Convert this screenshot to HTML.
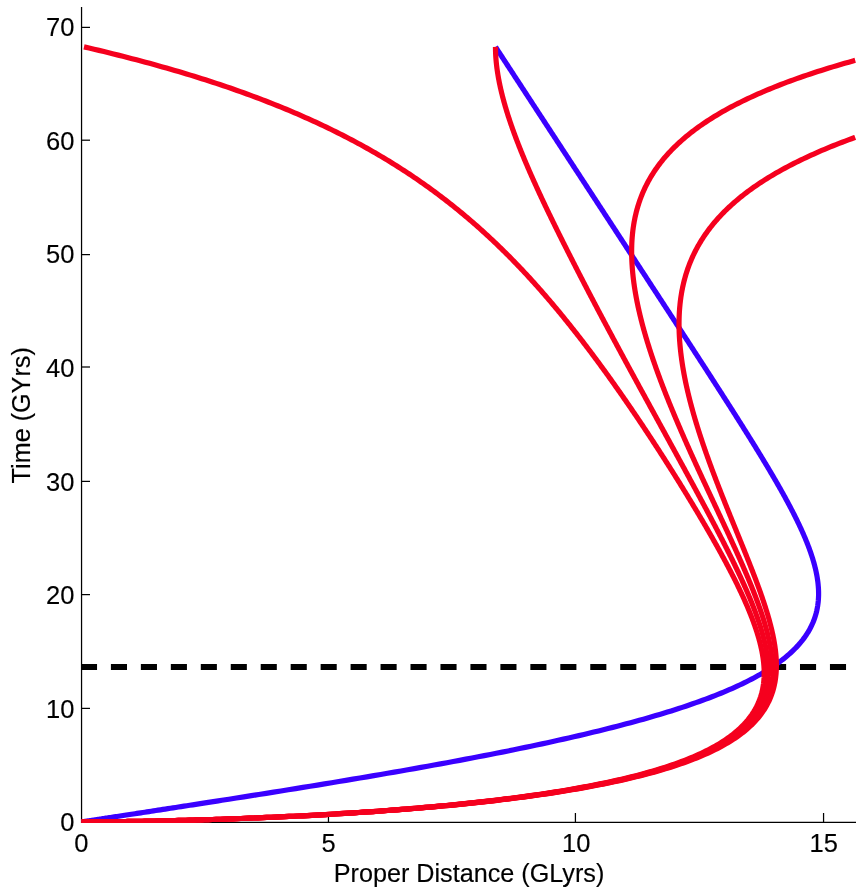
<!DOCTYPE html>
<html><head><meta charset="utf-8"><title>Proper Distance vs Time</title>
<style>html,body{margin:0;padding:0;background:#fff}svg{display:block}</style></head>
<body>
<svg width="861" height="890" viewBox="0 0 861 890">
<rect width="861" height="890" fill="#fff"/>
<clipPath id="c"><rect x="80.9" y="6" width="775.2" height="816.9"/></clipPath>
<g stroke="#000" stroke-width="1.25" fill="none">
<path d="M81.55,7 V822.35 H856"/>
<path d="M81.55,708.40 H90"/>
<path d="M81.55,594.60 H90"/>
<path d="M81.55,481.40 H90"/>
<path d="M81.55,367.00 H90"/>
<path d="M81.55,254.60 H90"/>
<path d="M81.55,140.20 H90"/>
<path d="M81.55,27.40 H90"/>
<path d="M328.46,822.35 V813"/>
<path d="M575.42,822.35 V813"/>
<path d="M823.56,822.35 V813"/>
</g>
<g clip-path="url(#c)" fill="none" stroke-linejoin="round">
<path d="M80.95,667 H846.1" stroke="#000" stroke-width="5.8" stroke-dasharray="16.1 13.86"/>
<path d="M81.55,821.90 L81.55,821.90 L81.55,821.90 L81.56,821.90 L81.56,821.90 L81.57,821.90 L81.58,821.89 L81.60,821.89 L81.62,821.89 L81.64,821.89 L81.67,821.88 L81.71,821.88 L81.75,821.87 L81.80,821.86 L81.85,821.85 L81.92,821.84 L81.99,821.83 L82.07,821.82 L82.16,821.81 L82.26,821.79 L82.37,821.78 L82.49,821.76 L82.62,821.74 L82.76,821.72 L82.91,821.69 L83.08,821.67 L83.26,821.64 L83.45,821.61 L83.66,821.58 L83.89,821.54 L84.12,821.51 L84.38,821.47 L84.65,821.43 L84.93,821.38 L85.24,821.34 L85.56,821.29 L85.90,821.24 L86.25,821.18 L86.63,821.12 L87.03,821.06 L87.44,821.00 L87.88,820.93 L88.34,820.86 L88.82,820.79 L89.32,820.71 L89.85,820.63 L90.39,820.55 L90.96,820.46 L91.56,820.37 L92.18,820.27 L92.82,820.18 L93.49,820.07 L94.19,819.97 L94.91,819.86 L95.66,819.74 L96.44,819.62 L97.25,819.50 L98.08,819.37 L98.95,819.24 L99.84,819.10 L100.76,818.96 L101.71,818.82 L102.70,818.66 L103.71,818.51 L104.76,818.35 L105.84,818.18 L106.96,818.01 L108.10,817.84 L109.28,817.66 L110.50,817.47 L111.75,817.28 L113.03,817.08 L114.36,816.88 L115.71,816.67 L117.11,816.46 L118.54,816.24 L120.01,816.01 L121.52,815.78 L123.07,815.55 L124.65,815.30 L126.28,815.05 L127.94,814.80 L129.65,814.54 L131.40,814.27 L133.19,814.00 L135.02,813.71 L136.89,813.43 L138.81,813.13 L140.77,812.83 L142.78,812.52 L144.83,812.21 L146.92,811.89 L149.06,811.56 L151.24,811.22 L153.47,810.88 L155.75,810.53 L158.07,810.17 L160.45,809.81 L162.86,809.44 L165.33,809.06 L167.85,808.67 L170.41,808.28 L173.03,807.87 L175.69,807.46 L178.40,807.04 L181.17,806.62 L183.98,806.18 L186.85,805.74 L189.77,805.29 L192.73,804.83 L195.76,804.36 L198.83,803.88 L201.95,803.40 L205.13,802.90 L208.37,802.40 L211.65,801.89 L214.99,801.37 L218.38,800.84 L221.83,800.30 L225.33,799.76 L228.89,799.20 L236.40,798.02 L243.89,796.85 L251.36,795.67 L258.80,794.49 L266.22,793.31 L273.62,792.14 L280.98,790.96 L288.32,789.78 L295.63,788.60 L302.91,787.43 L310.16,786.25 L317.38,785.07 L324.56,783.89 L331.71,782.72 L338.83,781.54 L345.90,780.36 L352.94,779.18 L359.94,778.01 L366.90,776.83 L373.82,775.65 L380.69,774.48 L387.53,773.30 L394.32,772.12 L401.06,770.94 L407.76,769.77 L414.41,768.59 L421.02,767.41 L427.58,766.23 L434.08,765.06 L440.54,763.88 L446.95,762.70 L453.30,761.52 L459.61,760.35 L465.86,759.17 L472.05,757.99 L478.20,756.82 L484.28,755.64 L490.32,754.46 L496.29,753.28 L502.21,752.11 L508.07,750.93 L513.88,749.75 L519.62,748.57 L525.31,747.40 L530.94,746.22 L536.51,745.04 L542.02,743.86 L547.47,742.69 L552.86,741.51 L558.18,740.33 L563.45,739.15 L568.66,737.98 L573.80,736.80 L578.88,735.62 L583.90,734.45 L588.86,733.27 L593.75,732.09 L598.59,730.91 L603.36,729.74 L608.07,728.56 L612.71,727.38 L617.30,726.20 L621.82,725.03 L626.28,723.85 L630.67,722.67 L635.01,721.49 L639.28,720.32 L643.49,719.14 L647.64,717.96 L651.72,716.79 L655.75,715.61 L659.71,714.43 L663.61,713.25 L667.45,712.08 L671.23,710.90 L674.95,709.72 L678.61,708.54 L682.21,707.37 L685.75,706.19 L689.23,705.01 L692.65,703.83 L696.01,702.66 L699.32,701.48 L702.56,700.30 L705.75,699.12 L708.88,697.95 L711.96,696.77 L714.98,695.59 L717.94,694.42 L720.85,693.24 L723.70,692.06 L726.50,690.88 L729.24,689.71 L731.93,688.53 L734.57,687.35 L737.15,686.17 L739.69,685.00 L742.17,683.82 L744.60,682.64 L746.97,681.46 L749.30,680.29 L751.58,679.11 L753.81,677.93 L755.99,676.75 L758.13,675.58 L760.21,674.40 L762.25,673.22 L764.24,672.05 L766.19,670.87 L768.09,669.69 L769.94,668.51 L771.76,667.34 L773.52,666.16 L775.25,664.98 L776.93,663.80 L778.57,662.63 L780.17,661.45 L781.72,660.27 L783.24,659.09 L784.71,657.92 L786.15,656.74 L787.55,655.56 L788.91,654.39 L790.23,653.21 L791.51,652.03 L792.76,650.85 L793.97,649.68 L795.14,648.50 L796.28,647.32 L797.39,646.14 L798.46,644.97 L799.50,643.79 L800.50,642.61 L801.47,641.43 L802.41,640.26 L803.31,639.08 L804.19,637.90 L805.03,636.72 L805.85,635.55 L806.63,634.37 L807.39,633.19 L808.11,632.02 L808.81,630.84 L809.48,629.66 L810.12,628.48 L810.73,627.31 L811.32,626.13 L811.88,624.95 L812.42,623.77 L812.93,622.60 L813.41,621.42 L813.87,620.24 L814.31,619.06 L814.72,617.89 L815.11,616.71 L815.48,615.53 L815.82,614.36 L816.15,613.18 L816.45,612.00 L816.73,610.82 L816.98,609.65 L817.22,608.47 L817.44,607.29 L817.64,606.11 L817.81,604.94 L817.97,603.76 L818.11,602.58 L818.23,601.40 L818.34,600.23 L818.42,599.05 L818.49,597.87 L818.54,596.69 L818.58,595.52 L818.59,594.34 L818.59,593.16 L818.58,591.99 L818.55,590.81 L818.50,589.63 L818.44,588.45 L818.36,587.28 L818.27,586.10 L818.17,584.92 L818.05,583.74 L817.92,582.57 L817.77,581.39 L817.61,580.21 L817.44,579.03 L817.26,577.86 L817.06,576.68 L816.85,575.50 L816.63,574.32 L816.40,573.15 L816.16,571.97 L815.90,570.79 L815.63,569.62 L815.36,568.44 L815.07,567.26 L814.77,566.08 L814.46,564.91 L814.14,563.73 L813.82,562.55 L813.48,561.37 L813.13,560.20 L812.78,559.02 L812.41,557.84 L812.04,556.66 L811.65,555.49 L811.26,554.31 L810.86,553.13 L810.46,551.96 L810.04,550.78 L809.62,549.60 L809.19,548.42 L808.75,547.25 L808.30,546.07 L807.85,544.89 L807.39,543.71 L806.92,542.54 L806.45,541.36 L805.97,540.18 L805.48,539.00 L804.99,537.83 L804.49,536.65 L803.98,535.47 L803.47,534.29 L802.95,533.12 L802.43,531.94 L801.90,530.76 L801.37,529.59 L800.83,528.41 L800.29,527.23 L799.74,526.05 L799.18,524.88 L798.62,523.70 L798.06,522.52 L797.49,521.34 L796.92,520.17 L796.34,518.99 L795.76,517.81 L795.17,516.63 L794.58,515.46 L793.98,514.28 L793.38,513.10 L792.78,511.93 L792.17,510.75 L791.56,509.57 L790.95,508.39 L790.33,507.22 L789.71,506.04 L789.09,504.86 L788.46,503.68 L787.83,502.51 L787.19,501.33 L786.55,500.15 L785.91,498.97 L785.27,497.80 L784.62,496.62 L783.97,495.44 L783.32,494.26 L782.66,493.09 L782.01,491.91 L781.35,490.73 L780.68,489.56 L780.02,488.38 L779.35,487.20 L778.68,486.02 L778.01,484.85 L777.33,483.67 L776.65,482.49 L775.97,481.31 L775.29,480.14 L774.61,478.96 L773.92,477.78 L773.23,476.60 L772.54,475.43 L771.85,474.25 L771.16,473.07 L770.46,471.89 L769.77,470.72 L769.07,469.54 L768.37,468.36 L767.66,467.19 L766.96,466.01 L766.25,464.83 L765.55,463.65 L764.84,462.48 L764.13,461.30 L763.42,460.12 L762.70,458.94 L761.99,457.77 L761.27,456.59 L760.56,455.41 L759.84,454.23 L759.12,453.06 L758.40,451.88 L757.67,450.70 L756.95,449.53 L756.23,448.35 L755.50,447.17 L754.77,445.99 L754.05,444.82 L753.32,443.64 L752.59,442.46 L751.86,441.28 L751.13,440.11 L750.39,438.93 L749.66,437.75 L748.93,436.57 L748.19,435.40 L747.45,434.22 L746.72,433.04 L745.98,431.86 L745.24,430.69 L744.50,429.51 L743.76,428.33 L743.02,427.16 L742.28,425.98 L741.54,424.80 L740.79,423.62 L740.05,422.45 L739.30,421.27 L738.56,420.09 L737.81,418.91 L737.07,417.74 L736.32,416.56 L735.57,415.38 L734.83,414.20 L734.08,413.03 L733.33,411.85 L732.58,410.67 L731.83,409.50 L731.08,408.32 L730.33,407.14 L729.57,405.96 L728.82,404.79 L728.07,403.61 L727.32,402.43 L726.56,401.25 L725.81,400.08 L725.06,398.90 L724.30,397.72 L723.55,396.54 L722.79,395.37 L722.03,394.19 L721.28,393.01 L720.52,391.83 L719.77,390.66 L719.01,389.48 L718.25,388.30 L717.49,387.13 L716.73,385.95 L715.98,384.77 L715.22,383.59 L714.46,382.42 L713.70,381.24 L712.94,380.06 L712.18,378.88 L711.42,377.71 L710.66,376.53 L709.90,375.35 L709.14,374.17 L708.38,373.00 L707.62,371.82 L706.85,370.64 L706.09,369.46 L705.33,368.29 L704.57,367.11 L703.81,365.93 L703.04,364.76 L702.28,363.58 L701.52,362.40 L700.75,361.22 L699.99,360.05 L699.23,358.87 L698.46,357.69 L697.70,356.51 L696.94,355.34 L696.17,354.16 L695.41,352.98 L694.64,351.80 L693.88,350.63 L693.11,349.45 L692.35,348.27 L691.58,347.10 L690.82,345.92 L690.05,344.74 L689.29,343.56 L688.52,342.39 L687.76,341.21 L686.99,340.03 L686.23,338.85 L685.46,337.68 L684.69,336.50 L683.93,335.32 L683.16,334.14 L682.40,332.97 L681.63,331.79 L680.86,330.61 L680.10,329.43 L679.33,328.26 L678.56,327.08 L677.80,325.90 L677.03,324.73 L676.26,323.55 L675.49,322.37 L674.73,321.19 L673.96,320.02 L673.19,318.84 L672.43,317.66 L671.66,316.48 L670.89,315.31 L670.12,314.13 L669.36,312.95 L668.59,311.77 L667.82,310.60 L667.05,309.42 L666.28,308.24 L665.52,307.07 L664.75,305.89 L663.98,304.71 L663.21,303.53 L662.44,302.36 L661.68,301.18 L660.91,300.00 L660.14,298.82 L659.37,297.65 L658.60,296.47 L657.83,295.29 L657.07,294.11 L656.30,292.94 L655.53,291.76 L654.76,290.58 L653.99,289.40 L653.22,288.23 L652.46,287.05 L651.69,285.87 L650.92,284.70 L650.15,283.52 L649.38,282.34 L648.61,281.16 L647.84,279.99 L647.07,278.81 L646.31,277.63 L645.54,276.45 L644.77,275.28 L644.00,274.10 L643.23,272.92 L642.46,271.74 L641.69,270.57 L640.92,269.39 L640.15,268.21 L639.38,267.03 L638.62,265.86 L637.85,264.68 L637.08,263.50 L636.31,262.33 L635.54,261.15 L634.77,259.97 L634.00,258.79 L633.23,257.62 L632.46,256.44 L631.69,255.26 L630.92,254.08 L630.15,252.91 L629.39,251.73 L628.62,250.55 L627.85,249.37 L627.08,248.20 L626.31,247.02 L625.54,245.84 L624.77,244.67 L624.00,243.49 L623.23,242.31 L622.46,241.13 L621.69,239.96 L620.92,238.78 L620.15,237.60 L619.38,236.42 L618.61,235.25 L617.85,234.07 L617.08,232.89 L616.31,231.71 L615.54,230.54 L614.77,229.36 L614.00,228.18 L613.23,227.00 L612.46,225.83 L611.69,224.65 L610.92,223.47 L610.15,222.30 L609.38,221.12 L608.61,219.94 L607.84,218.76 L607.07,217.59 L606.30,216.41 L605.53,215.23 L604.76,214.05 L603.99,212.88 L603.23,211.70 L602.46,210.52 L601.69,209.34 L600.92,208.17 L600.15,206.99 L599.38,205.81 L598.61,204.64 L597.84,203.46 L597.07,202.28 L596.30,201.10 L595.53,199.93 L594.76,198.75 L593.99,197.57 L593.22,196.39 L592.45,195.22 L591.68,194.04 L590.91,192.86 L590.14,191.68 L589.37,190.51 L588.60,189.33 L587.83,188.15 L587.06,186.97 L586.29,185.80 L585.52,184.62 L584.75,183.44 L583.99,182.27 L583.22,181.09 L582.45,179.91 L581.68,178.73 L580.91,177.56 L580.14,176.38 L579.37,175.20 L578.60,174.02 L577.83,172.85 L577.06,171.67 L576.29,170.49 L575.52,169.31 L574.75,168.14 L573.98,166.96 L573.21,165.78 L572.44,164.60 L571.67,163.43 L570.90,162.25 L570.13,161.07 L569.36,159.90 L568.59,158.72 L567.82,157.54 L567.05,156.36 L566.28,155.19 L565.51,154.01 L564.74,152.83 L563.97,151.65 L563.20,150.48 L562.43,149.30 L561.67,148.12 L560.90,146.94 L560.13,145.77 L559.36,144.59 L558.59,143.41 L557.82,142.24 L557.05,141.06 L556.28,139.88 L555.51,138.70 L554.74,137.53 L553.97,136.35 L553.20,135.17 L552.43,133.99 L551.66,132.82 L550.89,131.64 L550.12,130.46 L549.35,129.28 L548.58,128.11 L547.81,126.93 L547.04,125.75 L546.27,124.57 L545.50,123.40 L544.73,122.22 L543.96,121.04 L543.19,119.87 L542.42,118.69 L541.65,117.51 L540.88,116.33 L540.11,115.16 L539.34,113.98 L538.57,112.80 L537.81,111.62 L537.04,110.45 L536.27,109.27 L535.50,108.09 L534.73,106.91 L533.96,105.74 L533.19,104.56 L532.42,103.38 L531.65,102.21 L530.88,101.03 L530.11,99.85 L529.34,98.67 L528.57,97.50 L527.80,96.32 L527.03,95.14 L526.26,93.96 L525.49,92.79 L524.72,91.61 L523.95,90.43 L523.18,89.25 L522.41,88.08 L521.64,86.90 L520.87,85.72 L520.10,84.54 L519.33,83.37 L518.56,82.19 L517.79,81.01 L517.02,79.84 L516.25,78.66 L515.48,77.48 L514.71,76.30 L513.94,75.13 L513.17,73.95 L512.41,72.77 L511.64,71.59 L510.87,70.42 L510.10,69.24 L509.33,68.06 L508.56,66.88 L507.79,65.71 L507.02,64.53 L506.25,63.35 L505.48,62.17 L504.71,61.00 L503.94,59.82 L503.17,58.64 L502.40,57.47 L501.63,56.29 L500.86,55.11 L500.09,53.93 L499.32,52.76 L498.55,51.58 L497.78,50.40 L497.01,49.22 L496.24,48.05 L495.47,46.87" stroke="#3a00ff" stroke-width="5.2"/>
<path d="M81.55,821.90 L81.84,821.90 L82.12,821.90 L82.50,821.90 L82.98,821.90 L83.55,821.90 L84.21,821.89 L84.96,821.89 L85.80,821.89 L86.73,821.89 L87.75,821.88 L88.86,821.88 L90.05,821.87 L91.33,821.86 L92.69,821.85 L94.13,821.84 L95.66,821.83 L97.27,821.82 L98.96,821.81 L100.73,821.79 L102.57,821.78 L104.50,821.76 L106.50,821.74 L108.57,821.72 L110.72,821.69 L112.94,821.67 L115.23,821.64 L117.60,821.61 L120.03,821.58 L122.54,821.54 L125.11,821.51 L127.75,821.47 L130.45,821.43 L133.22,821.38 L136.06,821.34 L138.95,821.29 L141.91,821.24 L144.93,821.18 L148.01,821.12 L151.15,821.06 L154.34,821.00 L157.60,820.93 L160.91,820.86 L164.27,820.79 L167.69,820.71 L171.16,820.63 L174.68,820.55 L178.25,820.46 L181.88,820.37 L185.49,820.27 L189.15,820.18 L192.85,820.07 L196.60,819.97 L200.39,819.86 L204.23,819.74 L208.10,819.62 L212.02,819.50 L215.98,819.37 L219.97,819.24 L224.01,819.10 L228.08,818.96 L232.19,818.82 L236.33,818.66 L240.51,818.51 L244.72,818.35 L248.96,818.18 L253.24,818.01 L257.54,817.84 L261.87,817.66 L266.24,817.47 L270.62,817.28 L275.04,817.08 L279.48,816.88 L283.94,816.67 L288.43,816.46 L292.94,816.24 L297.47,816.01 L302.02,815.78 L306.60,815.55 L311.19,815.30 L315.79,815.05 L320.42,814.80 L325.05,814.54 L329.71,814.27 L334.38,814.00 L339.05,813.71 L343.75,813.43 L348.45,813.13 L353.16,812.83 L357.88,812.52 L362.61,812.21 L367.34,811.89 L372.09,811.56 L376.83,811.22 L381.58,810.88 L386.34,810.53 L391.09,810.17 L395.85,809.81 L400.61,809.44 L405.36,809.06 L410.12,808.67 L414.87,808.28 L419.62,807.87 L424.37,807.46 L429.11,807.04 L433.84,806.62 L438.57,806.18 L443.28,805.74 L448.00,805.29 L452.70,804.83 L457.39,804.36 L462.06,803.88 L466.73,803.40 L471.38,802.90 L476.02,802.40 L480.65,801.89 L485.26,801.37 L489.85,800.84 L494.42,800.30 L498.98,799.76 L503.52,799.20 L512.82,798.02 L521.73,796.85 L530.29,795.67 L538.50,794.49 L546.39,793.31 L553.98,792.14 L561.28,790.96 L568.32,789.78 L575.10,788.60 L581.64,787.43 L587.95,786.25 L594.04,785.07 L599.92,783.89 L605.59,782.72 L611.08,781.54 L616.39,780.36 L621.52,779.18 L626.48,778.01 L631.29,776.83 L635.93,775.65 L640.43,774.48 L644.79,773.30 L649.01,772.12 L653.09,770.94 L657.05,769.77 L660.88,768.59 L664.60,767.41 L668.20,766.23 L671.68,765.06 L675.06,763.88 L678.34,762.70 L681.52,761.52 L684.59,760.35 L687.58,759.17 L690.47,757.99 L693.27,756.82 L695.99,755.64 L698.63,754.46 L701.18,753.28 L703.66,752.11 L706.05,750.93 L708.38,749.75 L710.63,748.57 L712.81,747.40 L714.93,746.22 L716.98,745.04 L718.96,743.86 L720.88,742.69 L722.74,741.51 L724.55,740.33 L726.29,739.15 L727.98,737.98 L729.61,736.80 L731.19,735.62 L732.72,734.45 L734.20,733.27 L735.63,732.09 L737.01,730.91 L738.34,729.74 L739.63,728.56 L740.87,727.38 L742.07,726.20 L743.23,725.03 L744.35,723.85 L745.42,722.67 L746.46,721.49 L747.46,720.32 L748.42,719.14 L749.34,717.96 L750.23,716.79 L751.09,715.61 L751.91,714.43 L752.69,713.25 L753.45,712.08 L754.17,710.90 L754.86,709.72 L755.52,708.54 L756.15,707.37 L756.76,706.19 L757.33,705.01 L757.88,703.83 L758.40,702.66 L758.89,701.48 L759.36,700.30 L759.80,699.12 L760.22,697.95 L760.62,696.77 L760.99,695.59 L761.33,694.42 L761.66,693.24 L761.96,692.06 L762.24,690.88 L762.50,689.71 L762.74,688.53 L762.96,687.35 L763.16,686.17 L763.34,685.00 L763.51,683.82 L763.65,682.64 L763.77,681.46 L763.88,680.29 L763.97,679.11 L764.05,677.93 L764.10,676.75 L764.14,675.58 L764.17,674.40 L764.18,673.22 L764.17,672.05 L764.15,670.87 L764.12,669.69 L764.07,668.51 L764.00,667.34 L763.93,666.16 L763.84,664.98 L763.73,663.80 L763.62,662.63 L763.49,661.45 L763.35,660.27 L763.19,659.09 L763.03,657.92 L762.85,656.74 L762.66,655.56 L762.47,654.39 L762.26,653.21 L762.04,652.03 L761.81,650.85 L761.57,649.68 L761.31,648.50 L761.05,647.32 L760.78,646.14 L760.51,644.97 L760.22,643.79 L759.92,642.61 L759.61,641.43 L759.30,640.26 L758.98,639.08 L758.64,637.90 L758.30,636.72 L757.96,635.55 L757.60,634.37 L757.24,633.19 L756.87,632.02 L756.49,630.84 L756.11,629.66 L755.72,628.48 L755.32,627.31 L754.91,626.13 L754.50,624.95 L754.08,623.77 L753.66,622.60 L753.23,621.42 L752.79,620.24 L752.35,619.06 L751.90,617.89 L751.44,616.71 L750.98,615.53 L750.52,614.36 L750.05,613.18 L749.57,612.00 L749.09,610.82 L748.60,609.65 L748.11,608.47 L747.61,607.29 L747.11,606.11 L746.61,604.94 L746.10,603.76 L745.58,602.58 L745.06,601.40 L744.54,600.23 L744.01,599.05 L743.48,597.87 L742.94,596.69 L742.40,595.52 L741.86,594.34 L741.31,593.16 L740.76,591.99 L740.20,590.81 L739.64,589.63 L739.08,588.45 L738.52,587.28 L737.95,586.10 L737.37,584.92 L736.80,583.74 L736.22,582.57 L735.63,581.39 L735.05,580.21 L734.46,579.03 L733.87,577.86 L733.27,576.68 L732.67,575.50 L732.07,574.32 L731.47,573.15 L730.86,571.97 L730.25,570.79 L729.64,569.62 L729.03,568.44 L728.41,567.26 L727.79,566.08 L727.17,564.91 L726.55,563.73 L725.92,562.55 L725.29,561.37 L724.66,560.20 L724.03,559.02 L723.39,557.84 L722.75,556.66 L722.11,555.49 L721.47,554.31 L720.83,553.13 L720.18,551.96 L719.53,550.78 L718.88,549.60 L718.23,548.42 L717.57,547.25 L716.92,546.07 L716.26,544.89 L715.60,543.71 L714.94,542.54 L714.27,541.36 L713.61,540.18 L712.94,539.00 L712.27,537.83 L711.60,536.65 L710.93,535.47 L710.26,534.29 L709.58,533.12 L708.90,531.94 L708.22,530.76 L707.54,529.59 L706.86,528.41 L706.18,527.23 L705.49,526.05 L704.81,524.88 L704.12,523.70 L703.43,522.52 L702.74,521.34 L702.05,520.17 L701.36,518.99 L700.66,517.81 L699.96,516.63 L699.27,515.46 L698.57,514.28 L697.87,513.10 L697.17,511.93 L696.46,510.75 L695.76,509.57 L695.05,508.39 L694.35,507.22 L693.64,506.04 L692.93,504.86 L692.22,503.68 L691.51,502.51 L690.80,501.33 L690.08,500.15 L689.37,498.97 L688.65,497.80 L687.93,496.62 L687.21,495.44 L686.49,494.26 L685.77,493.09 L685.05,491.91 L684.33,490.73 L683.60,489.56 L682.88,488.38 L682.15,487.20 L681.42,486.02 L680.70,484.85 L679.97,483.67 L679.23,482.49 L678.50,481.31 L677.77,480.14 L677.03,478.96 L676.30,477.78 L675.56,476.60 L674.82,475.43 L674.09,474.25 L673.35,473.07 L672.60,471.89 L671.86,470.72 L671.12,469.54 L670.37,468.36 L669.63,467.19 L668.88,466.01 L668.14,464.83 L667.39,463.65 L666.64,462.48 L665.89,461.30 L665.13,460.12 L664.38,458.94 L663.63,457.77 L662.87,456.59 L662.12,455.41 L661.36,454.23 L660.60,453.06 L659.84,451.88 L659.08,450.70 L658.32,449.53 L657.56,448.35 L656.79,447.17 L656.03,445.99 L655.26,444.82 L654.49,443.64 L653.72,442.46 L652.96,441.28 L652.18,440.11 L651.41,438.93 L650.64,437.75 L649.87,436.57 L649.09,435.40 L648.31,434.22 L647.54,433.04 L646.76,431.86 L645.98,430.69 L645.20,429.51 L644.41,428.33 L643.63,427.16 L642.85,425.98 L642.06,424.80 L641.27,423.62 L640.48,422.45 L639.69,421.27 L638.90,420.09 L638.11,418.91 L637.32,417.74 L636.52,416.56 L635.73,415.38 L634.93,414.20 L634.13,413.03 L633.33,411.85 L632.53,410.67 L631.73,409.50 L630.92,408.32 L630.12,407.14 L629.31,405.96 L628.50,404.79 L627.69,403.61 L626.88,402.43 L626.07,401.25 L625.26,400.08 L624.44,398.90 L623.62,397.72 L622.81,396.54 L621.99,395.37 L621.17,394.19 L620.34,393.01 L619.52,391.83 L618.69,390.66 L617.87,389.48 L617.04,388.30 L616.21,387.13 L615.38,385.95 L614.54,384.77 L613.71,383.59 L612.87,382.42 L612.03,381.24 L611.19,380.06 L610.35,378.88 L609.51,377.71 L608.66,376.53 L607.82,375.35 L606.97,374.17 L606.12,373.00 L605.27,371.82 L604.41,370.64 L603.56,369.46 L602.70,368.29 L601.84,367.11 L600.98,365.93 L600.12,364.76 L599.25,363.58 L598.39,362.40 L597.52,361.22 L596.65,360.05 L595.77,358.87 L594.90,357.69 L594.02,356.51 L593.14,355.34 L592.26,354.16 L591.38,352.98 L590.50,351.80 L589.61,350.63 L588.72,349.45 L587.83,348.27 L586.93,347.10 L586.04,345.92 L585.14,344.74 L584.24,343.56 L583.34,342.39 L582.43,341.21 L581.53,340.03 L580.62,338.85 L579.71,337.68 L578.79,336.50 L577.87,335.32 L576.96,334.14 L576.03,332.97 L575.11,331.79 L574.18,330.61 L573.25,329.43 L572.32,328.26 L571.39,327.08 L570.45,325.90 L569.51,324.73 L568.57,323.55 L567.62,322.37 L566.67,321.19 L565.72,320.02 L564.77,318.84 L563.81,317.66 L562.85,316.48 L561.89,315.31 L560.93,314.13 L559.96,312.95 L558.99,311.77 L558.01,310.60 L557.04,309.42 L556.05,308.24 L555.07,307.07 L554.08,305.89 L553.09,304.71 L552.10,303.53 L551.10,302.36 L550.10,301.18 L549.10,300.00 L548.09,298.82 L547.08,297.65 L546.07,296.47 L545.05,295.29 L544.03,294.11 L543.00,292.94 L541.98,291.76 L540.94,290.58 L539.91,289.40 L538.87,288.23 L537.82,287.05 L536.78,285.87 L535.72,284.70 L534.67,283.52 L533.61,282.34 L532.55,281.16 L531.48,279.99 L530.41,278.81 L529.33,277.63 L528.25,276.45 L527.17,275.28 L526.08,274.10 L524.98,272.92 L523.88,271.74 L522.78,270.57 L521.67,269.39 L520.56,268.21 L519.44,267.03 L518.32,265.86 L517.19,264.68 L516.06,263.50 L514.92,262.33 L513.78,261.15 L512.63,259.97 L511.47,258.79 L510.31,257.62 L509.15,256.44 L507.98,255.26 L506.80,254.08 L505.62,252.91 L504.43,251.73 L503.24,250.55 L502.04,249.37 L500.83,248.20 L499.62,247.02 L498.40,245.84 L497.18,244.67 L495.95,243.49 L494.72,242.31 L493.47,241.13 L492.23,239.96 L490.97,238.78 L489.71,237.60 L488.44,236.42 L487.17,235.25 L485.88,234.07 L484.59,232.89 L483.30,231.71 L482.00,230.54 L480.69,229.36 L479.37,228.18 L478.05,227.00 L476.71,225.83 L475.37,224.65 L474.03,223.47 L472.67,222.30 L471.31,221.12 L469.94,219.94 L468.56,218.76 L467.18,217.59 L465.78,216.41 L464.38,215.23 L462.97,214.05 L461.55,212.88 L460.13,211.70 L458.69,210.52 L457.24,209.34 L455.79,208.17 L454.33,206.99 L452.86,205.81 L451.38,204.64 L449.89,203.46 L448.39,202.28 L446.88,201.10 L445.36,199.93 L443.83,198.75 L442.29,197.57 L440.74,196.39 L439.18,195.22 L437.62,194.04 L436.04,192.86 L434.45,191.68 L432.85,190.51 L431.23,189.33 L429.61,188.15 L427.98,186.97 L426.33,185.80 L424.68,184.62 L423.01,183.44 L421.33,182.27 L419.64,181.09 L417.94,179.91 L416.22,178.73 L414.50,177.56 L412.76,176.38 L411.00,175.20 L409.24,174.02 L407.46,172.85 L405.67,171.67 L403.86,170.49 L402.04,169.31 L400.21,168.14 L398.37,166.96 L396.51,165.78 L394.63,164.60 L392.74,163.43 L390.84,162.25 L388.92,161.07 L386.99,159.90 L385.04,158.72 L383.08,157.54 L381.10,156.36 L379.11,155.19 L377.09,154.01 L375.07,152.83 L373.02,151.65 L370.96,150.48 L368.88,149.30 L366.79,148.12 L364.68,146.94 L362.55,145.77 L360.40,144.59 L358.23,143.41 L356.05,142.24 L353.85,141.06 L351.62,139.88 L349.38,138.70 L347.12,137.53 L344.84,136.35 L342.54,135.17 L340.22,133.99 L337.88,132.82 L335.52,131.64 L333.13,130.46 L330.73,129.28 L328.30,128.11 L325.85,126.93 L323.38,125.75 L320.89,124.57 L318.37,123.40 L315.83,122.22 L313.26,121.04 L310.68,119.87 L308.06,118.69 L305.43,117.51 L302.76,116.33 L300.07,115.16 L297.36,113.98 L294.62,112.80 L291.85,111.62 L289.06,110.45 L286.24,109.27 L283.39,108.09 L280.51,106.91 L277.60,105.74 L274.67,104.56 L271.70,103.38 L268.71,102.21 L265.68,101.03 L262.62,99.85 L259.54,98.67 L256.42,97.50 L253.26,96.32 L250.08,95.14 L246.86,93.96 L243.61,92.79 L240.32,91.61 L237.00,90.43 L233.65,89.25 L230.26,88.08 L226.83,86.90 L223.36,85.72 L219.86,84.54 L216.32,83.37 L212.74,82.19 L209.12,81.01 L205.46,79.84 L201.76,78.66 L198.02,77.48 L194.24,76.30 L190.41,75.13 L186.55,73.95 L182.64,72.77 L178.68,71.59 L174.68,70.42 L170.63,69.24 L166.53,68.06 L162.39,66.88 L158.20,65.71 L153.96,64.53 L149.68,63.35 L145.34,62.17 L140.95,61.00 L136.51,59.82 L132.02,58.64 L127.47,57.47 L122.87,56.29 L118.22,55.11 L113.51,53.93 L108.74,52.76 L103.91,51.58 L99.02,50.40 L94.08,49.22 L89.07,48.05 L84.00,46.87" stroke="#f5001e" stroke-width="5.2"/>
<path d="M81.55,821.90 L81.84,821.90 L82.12,821.90 L82.51,821.90 L82.98,821.90 L83.55,821.90 L84.21,821.89 L84.96,821.89 L85.81,821.89 L86.74,821.89 L87.76,821.88 L88.87,821.88 L90.06,821.87 L91.34,821.86 L92.71,821.85 L94.15,821.84 L95.68,821.83 L97.29,821.82 L98.99,821.81 L100.76,821.79 L102.60,821.78 L104.53,821.76 L106.53,821.74 L108.61,821.72 L110.76,821.69 L112.99,821.67 L115.29,821.64 L117.65,821.61 L120.09,821.58 L122.60,821.54 L125.18,821.51 L127.82,821.47 L130.53,821.43 L133.30,821.38 L136.14,821.34 L139.04,821.29 L142.01,821.24 L145.03,821.18 L148.12,821.12 L151.26,821.06 L154.46,821.00 L157.72,820.93 L161.03,820.86 L164.40,820.79 L167.83,820.71 L171.30,820.63 L174.83,820.55 L178.41,820.46 L182.04,820.37 L185.66,820.27 L189.33,820.18 L193.03,820.07 L196.79,819.97 L200.59,819.86 L204.43,819.74 L208.32,819.62 L212.24,819.50 L216.21,819.37 L220.21,819.24 L224.25,819.10 L228.33,818.96 L232.45,818.82 L236.60,818.66 L240.79,818.51 L245.01,818.35 L249.26,818.18 L253.54,818.01 L257.86,817.84 L262.20,817.66 L266.57,817.47 L270.97,817.28 L275.39,817.08 L279.84,816.88 L284.32,816.67 L288.81,816.46 L293.33,816.24 L297.87,816.01 L302.44,815.78 L307.02,815.55 L311.62,815.30 L316.24,815.05 L320.87,814.80 L325.52,814.54 L330.19,814.27 L334.86,814.00 L339.56,813.71 L344.26,813.43 L348.97,813.13 L353.70,812.83 L358.43,812.52 L363.17,812.21 L367.92,811.89 L372.67,811.56 L377.43,811.22 L382.19,810.88 L386.96,810.53 L391.73,810.17 L396.50,809.81 L401.27,809.44 L406.04,809.06 L410.81,808.67 L415.57,808.28 L420.34,807.87 L425.10,807.46 L429.85,807.04 L434.60,806.62 L439.34,806.18 L444.07,805.74 L448.80,805.29 L453.51,804.83 L458.22,804.36 L462.91,803.88 L467.59,803.40 L472.26,802.90 L476.92,802.40 L481.56,801.89 L486.18,801.37 L490.79,800.84 L495.38,800.30 L499.95,799.76 L504.51,799.20 L513.84,798.02 L522.79,796.85 L531.38,795.67 L539.62,794.49 L547.54,793.31 L555.17,792.14 L562.50,790.96 L569.57,789.78 L576.38,788.60 L582.95,787.43 L589.29,786.25 L595.41,785.07 L601.32,783.89 L607.03,782.72 L612.54,781.54 L617.88,780.36 L623.04,779.18 L628.03,778.01 L632.86,776.83 L637.54,775.65 L642.06,774.48 L646.45,773.30 L650.69,772.12 L654.81,770.94 L658.79,769.77 L662.65,768.59 L666.39,767.41 L670.02,766.23 L673.53,765.06 L676.94,763.88 L680.25,762.70 L683.45,761.52 L686.55,760.35 L689.56,759.17 L692.48,757.99 L695.31,756.82 L698.06,755.64 L700.72,754.46 L703.30,753.28 L705.80,752.11 L708.22,750.93 L710.57,749.75 L712.85,748.57 L715.06,747.40 L717.20,746.22 L719.28,745.04 L721.29,743.86 L723.24,742.69 L725.12,741.51 L726.95,740.33 L728.72,739.15 L730.43,737.98 L732.09,736.80 L733.70,735.62 L735.25,734.45 L736.76,733.27 L738.21,732.09 L739.62,730.91 L740.98,729.74 L742.29,728.56 L743.56,727.38 L744.79,726.20 L745.97,725.03 L747.11,723.85 L748.21,722.67 L749.28,721.49 L750.30,720.32 L751.29,719.14 L752.24,717.96 L753.16,716.79 L754.04,715.61 L754.88,714.43 L755.70,713.25 L756.48,712.08 L757.23,710.90 L757.94,709.72 L758.63,708.54 L759.29,707.37 L759.92,706.19 L760.52,705.01 L761.10,703.83 L761.64,702.66 L762.16,701.48 L762.66,700.30 L763.13,699.12 L763.57,697.95 L764.00,696.77 L764.39,695.59 L764.77,694.42 L765.12,693.24 L765.45,692.06 L765.76,690.88 L766.05,689.71 L766.32,688.53 L766.57,687.35 L766.79,686.17 L767.00,685.00 L767.19,683.82 L767.37,682.64 L767.52,681.46 L767.66,680.29 L767.78,679.11 L767.88,677.93 L767.97,676.75 L768.04,675.58 L768.09,674.40 L768.13,673.22 L768.15,672.05 L768.16,670.87 L768.16,669.69 L768.14,668.51 L768.11,667.34 L768.06,666.16 L768.00,664.98 L767.93,663.80 L767.84,662.63 L767.74,661.45 L767.63,660.27 L767.51,659.09 L767.38,657.92 L767.23,656.74 L767.08,655.56 L766.91,654.39 L766.73,653.21 L766.55,652.03 L766.35,650.85 L766.14,649.68 L765.92,648.50 L765.70,647.32 L765.46,646.14 L765.22,644.97 L764.96,643.79 L764.70,642.61 L764.43,641.43 L764.15,640.26 L763.86,639.08 L763.56,637.90 L763.26,636.72 L762.94,635.55 L762.62,634.37 L762.30,633.19 L761.96,632.02 L761.62,630.84 L761.27,629.66 L760.92,628.48 L760.56,627.31 L760.19,626.13 L759.81,624.95 L759.43,623.77 L759.04,622.60 L758.65,621.42 L758.25,620.24 L757.85,619.06 L757.44,617.89 L757.02,616.71 L756.60,615.53 L756.18,614.36 L755.74,613.18 L755.31,612.00 L754.87,610.82 L754.42,609.65 L753.97,608.47 L753.51,607.29 L753.05,606.11 L752.59,604.94 L752.12,603.76 L751.65,602.58 L751.17,601.40 L750.69,600.23 L750.21,599.05 L749.72,597.87 L749.23,596.69 L748.73,595.52 L748.23,594.34 L747.73,593.16 L747.22,591.99 L746.71,590.81 L746.19,589.63 L745.68,588.45 L745.16,587.28 L744.63,586.10 L744.11,584.92 L743.58,583.74 L743.05,582.57 L742.51,581.39 L741.97,580.21 L741.43,579.03 L740.89,577.86 L740.34,576.68 L739.80,575.50 L739.25,574.32 L738.69,573.15 L738.14,571.97 L737.58,570.79 L737.02,569.62 L736.46,568.44 L735.89,567.26 L735.32,566.08 L734.75,564.91 L734.18,563.73 L733.61,562.55 L733.04,561.37 L732.46,560.20 L731.88,559.02 L731.30,557.84 L730.72,556.66 L730.13,555.49 L729.55,554.31 L728.96,553.13 L728.37,551.96 L727.78,550.78 L727.19,549.60 L726.60,548.42 L726.00,547.25 L725.40,546.07 L724.81,544.89 L724.21,543.71 L723.61,542.54 L723.00,541.36 L722.40,540.18 L721.80,539.00 L721.19,537.83 L720.58,536.65 L719.97,535.47 L719.36,534.29 L718.75,533.12 L718.14,531.94 L717.53,530.76 L716.92,529.59 L716.30,528.41 L715.69,527.23 L715.07,526.05 L714.45,524.88 L713.83,523.70 L713.21,522.52 L712.59,521.34 L711.97,520.17 L711.35,518.99 L710.73,517.81 L710.11,516.63 L709.48,515.46 L708.86,514.28 L708.23,513.10 L707.60,511.93 L706.98,510.75 L706.35,509.57 L705.72,508.39 L705.09,507.22 L704.46,506.04 L703.83,504.86 L703.20,503.68 L702.57,502.51 L701.94,501.33 L701.30,500.15 L700.67,498.97 L700.04,497.80 L699.40,496.62 L698.77,495.44 L698.13,494.26 L697.50,493.09 L696.86,491.91 L696.23,490.73 L695.59,489.56 L694.95,488.38 L694.31,487.20 L693.68,486.02 L693.04,484.85 L692.40,483.67 L691.76,482.49 L691.12,481.31 L690.48,480.14 L689.84,478.96 L689.20,477.78 L688.56,476.60 L687.92,475.43 L687.28,474.25 L686.64,473.07 L685.99,471.89 L685.35,470.72 L684.71,469.54 L684.07,468.36 L683.43,467.19 L682.78,466.01 L682.14,464.83 L681.50,463.65 L680.85,462.48 L680.21,461.30 L679.57,460.12 L678.92,458.94 L678.28,457.77 L677.63,456.59 L676.99,455.41 L676.34,454.23 L675.70,453.06 L675.06,451.88 L674.41,450.70 L673.77,449.53 L673.12,448.35 L672.48,447.17 L671.83,445.99 L671.19,444.82 L670.54,443.64 L669.90,442.46 L669.25,441.28 L668.60,440.11 L667.96,438.93 L667.31,437.75 L666.67,436.57 L666.02,435.40 L665.38,434.22 L664.73,433.04 L664.09,431.86 L663.44,430.69 L662.79,429.51 L662.15,428.33 L661.50,427.16 L660.86,425.98 L660.21,424.80 L659.57,423.62 L658.92,422.45 L658.28,421.27 L657.63,420.09 L656.99,418.91 L656.34,417.74 L655.69,416.56 L655.05,415.38 L654.40,414.20 L653.76,413.03 L653.11,411.85 L652.47,410.67 L651.83,409.50 L651.18,408.32 L650.54,407.14 L649.89,405.96 L649.25,404.79 L648.60,403.61 L647.96,402.43 L647.31,401.25 L646.67,400.08 L646.03,398.90 L645.38,397.72 L644.74,396.54 L644.10,395.37 L643.45,394.19 L642.81,393.01 L642.17,391.83 L641.52,390.66 L640.88,389.48 L640.24,388.30 L639.60,387.13 L638.95,385.95 L638.31,384.77 L637.67,383.59 L637.03,382.42 L636.39,381.24 L635.75,380.06 L635.11,378.88 L634.46,377.71 L633.82,376.53 L633.18,375.35 L632.54,374.17 L631.90,373.00 L631.26,371.82 L630.62,370.64 L629.98,369.46 L629.34,368.29 L628.71,367.11 L628.07,365.93 L627.43,364.76 L626.79,363.58 L626.15,362.40 L625.51,361.22 L624.88,360.05 L624.24,358.87 L623.60,357.69 L622.97,356.51 L622.33,355.34 L621.69,354.16 L621.06,352.98 L620.42,351.80 L619.79,350.63 L619.15,349.45 L618.52,348.27 L617.88,347.10 L617.25,345.92 L616.62,344.74 L615.98,343.56 L615.35,342.39 L614.72,341.21 L614.08,340.03 L613.45,338.85 L612.82,337.68 L612.19,336.50 L611.56,335.32 L610.93,334.14 L610.30,332.97 L609.67,331.79 L609.04,330.61 L608.41,329.43 L607.78,328.26 L607.15,327.08 L606.52,325.90 L605.89,324.73 L605.27,323.55 L604.64,322.37 L604.01,321.19 L603.39,320.02 L602.76,318.84 L602.13,317.66 L601.51,316.48 L600.88,315.31 L600.26,314.13 L599.64,312.95 L599.01,311.77 L598.39,310.60 L597.77,309.42 L597.15,308.24 L596.53,307.07 L595.90,305.89 L595.28,304.71 L594.66,303.53 L594.04,302.36 L593.43,301.18 L592.81,300.00 L592.19,298.82 L591.57,297.65 L590.95,296.47 L590.34,295.29 L589.72,294.11 L589.11,292.94 L588.49,291.76 L587.88,290.58 L587.26,289.40 L586.65,288.23 L586.04,287.05 L585.43,285.87 L584.82,284.70 L584.21,283.52 L583.59,282.34 L582.99,281.16 L582.38,279.99 L581.77,278.81 L581.16,277.63 L580.55,276.45 L579.95,275.28 L579.34,274.10 L578.74,272.92 L578.13,271.74 L577.53,270.57 L576.92,269.39 L576.32,268.21 L575.72,267.03 L575.11,265.86 L574.51,264.68 L573.91,263.50 L573.31,262.33 L572.71,261.15 L572.11,259.97 L571.51,258.79 L570.91,257.62 L570.31,256.44 L569.71,255.26 L569.12,254.08 L568.52,252.91 L567.92,251.73 L567.33,250.55 L566.73,249.37 L566.14,248.20 L565.55,247.02 L564.95,245.84 L564.36,244.67 L563.77,243.49 L563.18,242.31 L562.59,241.13 L562.00,239.96 L561.41,238.78 L560.82,237.60 L560.23,236.42 L559.65,235.25 L559.06,234.07 L558.48,232.89 L557.89,231.71 L557.31,230.54 L556.73,229.36 L556.15,228.18 L555.57,227.00 L554.99,225.83 L554.41,224.65 L553.83,223.47 L553.26,222.30 L552.68,221.12 L552.11,219.94 L551.53,218.76 L550.96,217.59 L550.39,216.41 L549.82,215.23 L549.25,214.05 L548.68,212.88 L548.12,211.70 L547.55,210.52 L546.99,209.34 L546.42,208.17 L545.86,206.99 L545.30,205.81 L544.74,204.64 L544.18,203.46 L543.63,202.28 L543.07,201.10 L542.52,199.93 L541.96,198.75 L541.41,197.57 L540.86,196.39 L540.31,195.22 L539.76,194.04 L539.22,192.86 L538.67,191.68 L538.13,190.51 L537.59,189.33 L537.05,188.15 L536.51,186.97 L535.98,185.80 L535.44,184.62 L534.91,183.44 L534.38,182.27 L533.85,181.09 L533.32,179.91 L532.79,178.73 L532.27,177.56 L531.75,176.38 L531.23,175.20 L530.71,174.02 L530.19,172.85 L529.68,171.67 L529.16,170.49 L528.65,169.31 L528.14,168.14 L527.64,166.96 L527.13,165.78 L526.63,164.60 L526.13,163.43 L525.63,162.25 L525.13,161.07 L524.64,159.90 L524.15,158.72 L523.66,157.54 L523.17,156.36 L522.69,155.19 L522.21,154.01 L521.73,152.83 L521.25,151.65 L520.78,150.48 L520.31,149.30 L519.84,148.12 L519.37,146.94 L518.91,145.77 L518.45,144.59 L517.99,143.41 L517.53,142.24 L517.08,141.06 L516.63,139.88 L516.18,138.70 L515.74,137.53 L515.30,136.35 L514.86,135.17 L514.43,133.99 L514.00,132.82 L513.57,131.64 L513.14,130.46 L512.72,129.28 L512.30,128.11 L511.89,126.93 L511.48,125.75 L511.07,124.57 L510.67,123.40 L510.27,122.22 L509.87,121.04 L509.48,119.87 L509.09,118.69 L508.70,117.51 L508.32,116.33 L507.95,115.16 L507.57,113.98 L507.20,112.80 L506.84,111.62 L506.48,110.45 L506.12,109.27 L505.77,108.09 L505.42,106.91 L505.08,105.74 L504.74,104.56 L504.41,103.38 L504.08,102.21 L503.75,101.03 L503.43,99.85 L503.12,98.67 L502.81,97.50 L502.50,96.32 L502.20,95.14 L501.91,93.96 L501.62,92.79 L501.34,91.61 L501.06,90.43 L500.78,89.25 L500.52,88.08 L500.26,86.90 L500.00,85.72 L499.75,84.54 L499.51,83.37 L499.27,82.19 L499.04,81.01 L498.81,79.84 L498.59,78.66 L498.38,77.48 L498.17,76.30 L497.97,75.13 L497.78,73.95 L497.59,72.77 L497.42,71.59 L497.24,70.42 L497.08,69.24 L496.92,68.06 L496.77,66.88 L496.63,65.71 L496.49,64.53 L496.37,63.35 L496.25,62.17 L496.14,61.00 L496.03,59.82 L495.94,58.64 L495.85,57.47 L495.77,56.29 L495.70,55.11 L495.64,53.93 L495.59,52.76 L495.55,51.58 L495.52,50.40 L495.49,49.22 L495.48,48.05 L495.47,46.87" stroke="#f5001e" stroke-width="5.2"/>
<path d="M81.55,821.90 L81.84,821.90 L82.13,821.90 L82.51,821.90 L82.98,821.90 L83.55,821.90 L84.21,821.89 L84.97,821.89 L85.81,821.89 L86.75,821.89 L87.77,821.88 L88.88,821.88 L90.07,821.87 L91.36,821.86 L92.72,821.85 L94.17,821.84 L95.70,821.83 L97.32,821.82 L99.01,821.81 L100.78,821.79 L102.64,821.78 L104.57,821.76 L106.57,821.74 L108.65,821.72 L110.81,821.69 L113.04,821.67 L115.34,821.64 L117.71,821.61 L120.15,821.58 L122.66,821.54 L125.24,821.51 L127.89,821.47 L130.60,821.43 L133.38,821.38 L136.23,821.34 L139.13,821.29 L142.10,821.24 L145.13,821.18 L148.22,821.12 L151.37,821.06 L154.58,821.00 L157.84,820.93 L161.16,820.86 L164.54,820.79 L167.97,820.71 L171.45,820.63 L174.99,820.55 L178.57,820.46 L182.21,820.37 L185.83,820.27 L189.50,820.18 L193.22,820.07 L196.98,819.97 L200.79,819.86 L204.64,819.74 L208.53,819.62 L212.46,819.50 L216.44,819.37 L220.45,819.24 L224.50,819.10 L228.59,818.96 L232.71,818.82 L236.87,818.66 L241.07,818.51 L245.30,818.35 L249.56,818.18 L253.85,818.01 L258.17,817.84 L262.52,817.66 L266.90,817.47 L271.31,817.28 L275.74,817.08 L280.20,816.88 L284.69,816.67 L289.20,816.46 L293.73,816.24 L298.28,816.01 L302.85,815.78 L307.44,815.55 L312.05,815.30 L316.68,815.05 L321.33,814.80 L325.99,814.54 L330.67,814.27 L335.36,814.00 L340.06,813.71 L344.77,813.43 L349.50,813.13 L354.23,812.83 L358.98,812.52 L363.73,812.21 L368.49,811.89 L373.26,811.56 L378.03,811.22 L382.81,810.88 L387.59,810.53 L392.37,810.17 L397.15,809.81 L401.93,809.44 L406.72,809.06 L411.50,808.67 L416.28,808.28 L421.06,807.87 L425.83,807.46 L430.60,807.04 L435.36,806.62 L440.12,806.18 L444.87,805.74 L449.61,805.29 L454.34,804.83 L459.06,804.36 L463.76,803.88 L468.46,803.40 L473.15,802.90 L477.82,802.40 L482.47,801.89 L487.11,801.37 L491.74,800.84 L496.34,800.30 L500.93,799.76 L505.50,799.20 L514.87,798.02 L523.86,796.85 L532.47,795.67 L540.75,794.49 L548.71,793.31 L556.36,792.14 L563.73,790.96 L570.83,789.78 L577.67,788.60 L584.27,787.43 L590.64,786.25 L596.79,785.07 L602.73,783.89 L608.47,782.72 L614.01,781.54 L619.38,780.36 L624.57,779.18 L629.59,778.01 L634.45,776.83 L639.15,775.65 L643.70,774.48 L648.12,773.30 L652.39,772.12 L656.53,770.94 L660.54,769.77 L664.43,768.59 L668.20,767.41 L671.85,766.23 L675.40,765.06 L678.83,763.88 L682.16,762.70 L685.39,761.52 L688.52,760.35 L691.56,759.17 L694.50,757.99 L697.36,756.82 L700.13,755.64 L702.82,754.46 L705.42,753.28 L707.95,752.11 L710.40,750.93 L712.78,749.75 L715.08,748.57 L717.32,747.40 L719.49,746.22 L721.59,745.04 L723.62,743.86 L725.60,742.69 L727.51,741.51 L729.36,740.33 L731.16,739.15 L732.90,737.98 L734.59,736.80 L736.22,735.62 L737.80,734.45 L739.33,733.27 L740.81,732.09 L742.24,730.91 L743.62,729.74 L744.97,728.56 L746.26,727.38 L747.51,726.20 L748.72,725.03 L749.89,723.85 L751.02,722.67 L752.11,721.49 L753.16,720.32 L754.17,719.14 L755.15,717.96 L756.09,716.79 L757.00,715.61 L757.87,714.43 L758.71,713.25 L759.52,712.08 L760.29,710.90 L761.04,709.72 L761.75,708.54 L762.44,707.37 L763.10,706.19 L763.72,705.01 L764.33,703.83 L764.90,702.66 L765.45,701.48 L765.97,700.30 L766.47,699.12 L766.94,697.95 L767.39,696.77 L767.82,695.59 L768.22,694.42 L768.60,693.24 L768.96,692.06 L769.30,690.88 L769.61,689.71 L769.91,688.53 L770.19,687.35 L770.44,686.17 L770.68,685.00 L770.90,683.82 L771.10,682.64 L771.28,681.46 L771.45,680.29 L771.60,679.11 L771.73,677.93 L771.85,676.75 L771.94,675.58 L772.03,674.40 L772.10,673.22 L772.15,672.05 L772.19,670.87 L772.22,669.69 L772.23,668.51 L772.23,667.34 L772.21,666.16 L772.18,664.98 L772.14,663.80 L772.09,662.63 L772.02,661.45 L771.94,660.27 L771.85,659.09 L771.75,657.92 L771.64,656.74 L771.51,655.56 L771.38,654.39 L771.23,653.21 L771.08,652.03 L770.91,650.85 L770.74,649.68 L770.56,648.50 L770.36,647.32 L770.16,646.14 L769.95,644.97 L769.73,643.79 L769.50,642.61 L769.26,641.43 L769.01,640.26 L768.76,639.08 L768.50,637.90 L768.23,636.72 L767.95,635.55 L767.67,634.37 L767.38,633.19 L767.08,632.02 L766.77,630.84 L766.46,629.66 L766.14,628.48 L765.82,627.31 L765.49,626.13 L765.15,624.95 L764.81,623.77 L764.46,622.60 L764.10,621.42 L763.74,620.24 L763.38,619.06 L763.01,617.89 L762.63,616.71 L762.25,615.53 L761.86,614.36 L761.47,613.18 L761.07,612.00 L760.67,610.82 L760.27,609.65 L759.86,608.47 L759.44,607.29 L759.02,606.11 L758.60,604.94 L758.18,603.76 L757.74,602.58 L757.31,601.40 L756.87,600.23 L756.43,599.05 L755.99,597.87 L755.54,596.69 L755.08,595.52 L754.63,594.34 L754.17,593.16 L753.71,591.99 L753.24,590.81 L752.78,589.63 L752.30,588.45 L751.83,587.28 L751.35,586.10 L750.87,584.92 L750.39,583.74 L749.91,582.57 L749.42,581.39 L748.93,580.21 L748.44,579.03 L747.95,577.86 L747.45,576.68 L746.95,575.50 L746.45,574.32 L745.95,573.15 L745.44,571.97 L744.94,570.79 L744.43,569.62 L743.92,568.44 L743.40,567.26 L742.89,566.08 L742.37,564.91 L741.86,563.73 L741.34,562.55 L740.82,561.37 L740.30,560.20 L739.77,559.02 L739.25,557.84 L738.72,556.66 L738.19,555.49 L737.66,554.31 L737.13,553.13 L736.60,551.96 L736.07,550.78 L735.54,549.60 L735.00,548.42 L734.47,547.25 L733.93,546.07 L733.39,544.89 L732.85,543.71 L732.31,542.54 L731.77,541.36 L731.23,540.18 L730.69,539.00 L730.15,537.83 L729.61,536.65 L729.06,535.47 L728.52,534.29 L727.97,533.12 L727.43,531.94 L726.88,530.76 L726.33,529.59 L725.79,528.41 L725.24,527.23 L724.69,526.05 L724.14,524.88 L723.59,523.70 L723.04,522.52 L722.49,521.34 L721.94,520.17 L721.39,518.99 L720.84,517.81 L720.29,516.63 L719.74,515.46 L719.19,514.28 L718.64,513.10 L718.09,511.93 L717.54,510.75 L716.99,509.57 L716.44,508.39 L715.88,507.22 L715.33,506.04 L714.78,504.86 L714.23,503.68 L713.68,502.51 L713.13,501.33 L712.58,500.15 L712.03,498.97 L711.48,497.80 L710.93,496.62 L710.38,495.44 L709.83,494.26 L709.28,493.09 L708.73,491.91 L708.18,490.73 L707.63,489.56 L707.08,488.38 L706.53,487.20 L705.98,486.02 L705.44,484.85 L704.89,483.67 L704.34,482.49 L703.80,481.31 L703.25,480.14 L702.71,478.96 L702.16,477.78 L701.62,476.60 L701.07,475.43 L700.53,474.25 L699.99,473.07 L699.45,471.89 L698.91,470.72 L698.36,469.54 L697.82,468.36 L697.29,467.19 L696.75,466.01 L696.21,464.83 L695.67,463.65 L695.13,462.48 L694.60,461.30 L694.06,460.12 L693.53,458.94 L693.00,457.77 L692.46,456.59 L691.93,455.41 L691.40,454.23 L690.87,453.06 L690.34,451.88 L689.81,450.70 L689.29,449.53 L688.76,448.35 L688.23,447.17 L687.71,445.99 L687.18,444.82 L686.66,443.64 L686.14,442.46 L685.62,441.28 L685.10,440.11 L684.58,438.93 L684.06,437.75 L683.55,436.57 L683.03,435.40 L682.52,434.22 L682.01,433.04 L681.49,431.86 L680.98,430.69 L680.47,429.51 L679.97,428.33 L679.46,427.16 L678.95,425.98 L678.45,424.80 L677.95,423.62 L677.44,422.45 L676.94,421.27 L676.45,420.09 L675.95,418.91 L675.45,417.74 L674.96,416.56 L674.46,415.38 L673.97,414.20 L673.48,413.03 L672.99,411.85 L672.50,410.67 L672.02,409.50 L671.53,408.32 L671.05,407.14 L670.57,405.96 L670.09,404.79 L669.61,403.61 L669.13,402.43 L668.66,401.25 L668.18,400.08 L667.71,398.90 L667.24,397.72 L666.78,396.54 L666.31,395.37 L665.84,394.19 L665.38,393.01 L664.92,391.83 L664.46,390.66 L664.00,389.48 L663.55,388.30 L663.09,387.13 L662.64,385.95 L662.19,384.77 L661.75,383.59 L661.30,382.42 L660.86,381.24 L660.41,380.06 L659.97,378.88 L659.54,377.71 L659.10,376.53 L658.67,375.35 L658.24,374.17 L657.81,373.00 L657.38,371.82 L656.96,370.64 L656.53,369.46 L656.11,368.29 L655.70,367.11 L655.28,365.93 L654.87,364.76 L654.46,363.58 L654.05,362.40 L653.64,361.22 L653.24,360.05 L652.84,358.87 L652.44,357.69 L652.05,356.51 L651.65,355.34 L651.26,354.16 L650.87,352.98 L650.49,351.80 L650.11,350.63 L649.73,349.45 L649.35,348.27 L648.98,347.10 L648.60,345.92 L648.24,344.74 L647.87,343.56 L647.51,342.39 L647.15,341.21 L646.79,340.03 L646.44,338.85 L646.09,337.68 L645.74,336.50 L645.40,335.32 L645.06,334.14 L644.72,332.97 L644.38,331.79 L644.05,330.61 L643.72,329.43 L643.40,328.26 L643.08,327.08 L642.76,325.90 L642.44,324.73 L642.13,323.55 L641.83,322.37 L641.52,321.19 L641.22,320.02 L640.93,318.84 L640.63,317.66 L640.34,316.48 L640.06,315.31 L639.78,314.13 L639.50,312.95 L639.23,311.77 L638.96,310.60 L638.69,309.42 L638.43,308.24 L638.17,307.07 L637.92,305.89 L637.67,304.71 L637.43,303.53 L637.19,302.36 L636.95,301.18 L636.72,300.00 L636.49,298.82 L636.27,297.65 L636.05,296.47 L635.84,295.29 L635.63,294.11 L635.43,292.94 L635.23,291.76 L635.03,290.58 L634.84,289.40 L634.66,288.23 L634.48,287.05 L634.30,285.87 L634.14,284.70 L633.97,283.52 L633.81,282.34 L633.66,281.16 L633.51,279.99 L633.36,278.81 L633.22,277.63 L633.09,276.45 L632.96,275.28 L632.84,274.10 L632.72,272.92 L632.61,271.74 L632.50,270.57 L632.40,269.39 L632.31,268.21 L632.22,267.03 L632.14,265.86 L632.06,264.68 L631.99,263.50 L631.93,262.33 L631.87,261.15 L631.82,259.97 L631.77,258.79 L631.73,257.62 L631.70,256.44 L631.68,255.26 L631.66,254.08 L631.65,252.91 L631.64,251.73 L631.65,250.55 L631.66,249.37 L631.67,248.20 L631.70,247.02 L631.73,245.84 L631.77,244.67 L631.82,243.49 L631.87,242.31 L631.94,241.13 L632.01,239.96 L632.09,238.78 L632.17,237.60 L632.27,236.42 L632.37,235.25 L632.48,234.07 L632.61,232.89 L632.73,231.71 L632.87,230.54 L633.02,229.36 L633.18,228.18 L633.34,227.00 L633.52,225.83 L633.70,224.65 L633.90,223.47 L634.10,222.30 L634.31,221.12 L634.54,219.94 L634.77,218.76 L635.01,217.59 L635.27,216.41 L635.53,215.23 L635.81,214.05 L636.09,212.88 L636.39,211.70 L636.70,210.52 L637.01,209.34 L637.35,208.17 L637.69,206.99 L638.04,205.81 L638.40,204.64 L638.78,203.46 L639.17,202.28 L639.57,201.10 L639.99,199.93 L640.41,198.75 L640.85,197.57 L641.30,196.39 L641.77,195.22 L642.25,194.04 L642.74,192.86 L643.24,191.68 L643.76,190.51 L644.30,189.33 L644.84,188.15 L645.40,186.97 L645.98,185.80 L646.57,184.62 L647.18,183.44 L647.80,182.27 L648.44,181.09 L649.09,179.91 L649.76,178.73 L650.44,177.56 L651.14,176.38 L651.86,175.20 L652.59,174.02 L653.34,172.85 L654.11,171.67 L654.89,170.49 L655.70,169.31 L656.52,168.14 L657.36,166.96 L658.21,165.78 L659.09,164.60 L659.98,163.43 L660.90,162.25 L661.83,161.07 L662.78,159.90 L663.75,158.72 L664.75,157.54 L665.76,156.36 L666.79,155.19 L667.85,154.01 L668.92,152.83 L670.02,151.65 L671.14,150.48 L672.28,149.30 L673.45,148.12 L674.64,146.94 L675.85,145.77 L677.08,144.59 L678.34,143.41 L679.62,142.24 L680.93,141.06 L682.26,139.88 L683.62,138.70 L685.00,137.53 L686.41,136.35 L687.84,135.17 L689.31,133.99 L690.80,132.82 L692.31,131.64 L693.86,130.46 L695.43,129.28 L697.03,128.11 L698.66,126.93 L700.32,125.75 L702.01,124.57 L703.73,123.40 L705.48,122.22 L707.27,121.04 L709.08,119.87 L710.93,118.69 L712.81,117.51 L714.72,116.33 L716.67,115.16 L718.65,113.98 L720.66,112.80 L722.71,111.62 L724.80,110.45 L726.92,109.27 L729.08,108.09 L731.27,106.91 L733.51,105.74 L735.78,104.56 L738.09,103.38 L740.44,102.21 L742.83,101.03 L745.26,99.85 L747.74,98.67 L750.25,97.50 L752.81,96.32 L755.41,95.14 L758.05,93.96 L760.74,92.79 L763.48,91.61 L766.26,90.43 L769.08,89.25 L771.96,88.08 L774.88,86.90 L777.85,85.72 L780.87,84.54 L783.94,83.37 L787.06,82.19 L790.24,81.01 L793.46,79.84 L796.74,78.66 L800.08,77.48 L803.47,76.30 L806.91,75.13 L810.41,73.95 L813.97,72.77 L817.59,71.59 L821.27,70.42 L825.01,69.24 L828.81,68.06 L832.67,66.88 L836.59,65.71 L840.58,64.53 L844.64,63.35 L848.76,62.17 L852.95,61.00 L855.20,60.37" stroke="#f5001e" stroke-width="5.2"/>
<path d="M81.55,821.90 L81.84,821.90 L82.13,821.90 L82.51,821.90 L82.98,821.90 L83.56,821.90 L84.22,821.89 L84.97,821.89 L85.82,821.89 L86.75,821.89 L87.78,821.88 L88.89,821.88 L90.09,821.87 L91.37,821.86 L92.74,821.85 L94.19,821.84 L95.72,821.83 L97.34,821.82 L99.04,821.81 L100.81,821.79 L102.67,821.78 L104.60,821.76 L106.61,821.74 L108.69,821.72 L110.85,821.69 L113.08,821.67 L115.39,821.64 L117.76,821.61 L120.21,821.58 L122.73,821.54 L125.31,821.51 L127.96,821.47 L130.68,821.43 L133.47,821.38 L136.31,821.34 L139.22,821.29 L142.20,821.24 L145.23,821.18 L148.33,821.12 L151.48,821.06 L154.70,821.00 L157.97,820.93 L161.29,820.86 L164.68,820.79 L168.11,820.71 L171.60,820.63 L175.14,820.55 L178.74,820.46 L182.37,820.37 L186.00,820.27 L189.68,820.18 L193.41,820.07 L197.17,819.97 L200.99,819.86 L204.85,819.74 L208.74,819.62 L212.69,819.50 L216.67,819.37 L220.69,819.24 L224.75,819.10 L228.84,818.96 L232.98,818.82 L237.15,818.66 L241.35,818.51 L245.59,818.35 L249.85,818.18 L254.16,818.01 L258.49,817.84 L262.85,817.66 L267.24,817.47 L271.65,817.28 L276.10,817.08 L280.57,816.88 L285.06,816.67 L289.58,816.46 L294.12,816.24 L298.68,816.01 L303.27,815.78 L307.87,815.55 L312.49,815.30 L317.13,815.05 L321.79,814.80 L326.46,814.54 L331.15,814.27 L335.85,814.00 L340.56,813.71 L345.29,813.43 L350.03,813.13 L354.78,812.83 L359.53,812.52 L364.30,812.21 L369.07,811.89 L373.85,811.56 L378.63,811.22 L383.42,810.88 L388.21,810.53 L393.01,810.17 L397.81,809.81 L402.60,809.44 L407.40,809.06 L412.20,808.67 L416.99,808.28 L421.78,807.87 L426.57,807.46 L431.35,807.04 L436.13,806.62 L440.90,806.18 L445.66,805.74 L450.42,805.29 L455.16,804.83 L459.90,804.36 L464.62,803.88 L469.33,803.40 L474.03,802.90 L478.72,802.40 L483.39,801.89 L488.05,801.37 L492.69,800.84 L497.31,800.30 L501.92,799.76 L506.50,799.20 L515.91,798.02 L524.92,796.85 L533.57,795.67 L541.88,794.49 L549.87,793.31 L557.56,792.14 L564.96,790.96 L572.09,789.78 L578.96,788.60 L585.59,787.43 L591.99,786.25 L598.17,785.07 L604.14,783.89 L609.91,782.72 L615.49,781.54 L620.88,780.36 L626.10,779.18 L631.15,778.01 L636.04,776.83 L640.77,775.65 L645.35,774.48 L649.79,773.30 L654.09,772.12 L658.26,770.94 L662.30,769.77 L666.22,768.59 L670.01,767.41 L673.70,766.23 L677.26,765.06 L680.73,763.88 L684.08,762.70 L687.34,761.52 L690.50,760.35 L693.56,759.17 L696.53,757.99 L699.42,756.82 L702.22,755.64 L704.93,754.46 L707.56,753.28 L710.12,752.11 L712.59,750.93 L715.00,749.75 L717.33,748.57 L719.59,747.40 L721.78,746.22 L723.91,745.04 L725.97,743.86 L727.97,742.69 L729.91,741.51 L731.79,740.33 L733.61,739.15 L735.38,737.98 L737.09,736.80 L738.75,735.62 L740.35,734.45 L741.91,733.27 L743.42,732.09 L744.87,730.91 L746.29,729.74 L747.65,728.56 L748.97,727.38 L750.25,726.20 L751.49,725.03 L752.68,723.85 L753.84,722.67 L754.95,721.49 L756.03,720.32 L757.07,719.14 L758.07,717.96 L759.04,716.79 L759.98,715.61 L760.88,714.43 L761.74,713.25 L762.58,712.08 L763.38,710.90 L764.15,709.72 L764.89,708.54 L765.60,707.37 L766.29,706.19 L766.94,705.01 L767.57,703.83 L768.17,702.66 L768.75,701.48 L769.30,700.30 L769.82,699.12 L770.32,697.95 L770.80,696.77 L771.26,695.59 L771.69,694.42 L772.09,693.24 L772.48,692.06 L772.85,690.88 L773.19,689.71 L773.52,688.53 L773.82,687.35 L774.11,686.17 L774.37,685.00 L774.62,683.82 L774.85,682.64 L775.06,681.46 L775.26,680.29 L775.44,679.11 L775.60,677.93 L775.74,676.75 L775.87,675.58 L775.99,674.40 L776.09,673.22 L776.17,672.05 L776.24,670.87 L776.30,669.69 L776.34,668.51 L776.37,667.34 L776.38,666.16 L776.38,664.98 L776.37,663.80 L776.35,662.63 L776.31,661.45 L776.27,660.27 L776.21,659.09 L776.14,657.92 L776.06,656.74 L775.97,655.56 L775.87,654.39 L775.76,653.21 L775.63,652.03 L775.50,650.85 L775.36,649.68 L775.21,648.50 L775.05,647.32 L774.88,646.14 L774.70,644.97 L774.51,643.79 L774.32,642.61 L774.12,641.43 L773.91,640.26 L773.69,639.08 L773.46,637.90 L773.23,636.72 L772.99,635.55 L772.74,634.37 L772.48,633.19 L772.22,632.02 L771.95,630.84 L771.68,629.66 L771.39,628.48 L771.11,627.31 L770.81,626.13 L770.51,624.95 L770.21,623.77 L769.90,622.60 L769.58,621.42 L769.26,620.24 L768.93,619.06 L768.60,617.89 L768.26,616.71 L767.92,615.53 L767.57,614.36 L767.22,613.18 L766.87,612.00 L766.50,610.82 L766.14,609.65 L765.77,608.47 L765.40,607.29 L765.02,606.11 L764.64,604.94 L764.26,603.76 L763.87,602.58 L763.48,601.40 L763.08,600.23 L762.68,599.05 L762.28,597.87 L761.88,596.69 L761.47,595.52 L761.06,594.34 L760.65,593.16 L760.23,591.99 L759.81,590.81 L759.39,589.63 L758.96,588.45 L758.54,587.28 L758.11,586.10 L757.67,584.92 L757.24,583.74 L756.80,582.57 L756.36,581.39 L755.92,580.21 L755.48,579.03 L755.04,577.86 L754.59,576.68 L754.14,575.50 L753.69,574.32 L753.24,573.15 L752.78,571.97 L752.33,570.79 L751.87,569.62 L751.41,568.44 L750.95,567.26 L750.49,566.08 L750.03,564.91 L749.57,563.73 L749.10,562.55 L748.64,561.37 L748.17,560.20 L747.70,559.02 L747.23,557.84 L746.76,556.66 L746.29,555.49 L745.82,554.31 L745.35,553.13 L744.87,551.96 L744.40,550.78 L743.92,549.60 L743.45,548.42 L742.97,547.25 L742.50,546.07 L742.02,544.89 L741.54,543.71 L741.06,542.54 L740.59,541.36 L740.11,540.18 L739.63,539.00 L739.15,537.83 L738.67,536.65 L738.19,535.47 L737.71,534.29 L737.23,533.12 L736.75,531.94 L736.27,530.76 L735.79,529.59 L735.32,528.41 L734.84,527.23 L734.36,526.05 L733.88,524.88 L733.40,523.70 L732.92,522.52 L732.44,521.34 L731.96,520.17 L731.48,518.99 L731.01,517.81 L730.53,516.63 L730.05,515.46 L729.58,514.28 L729.10,513.10 L728.63,511.93 L728.15,510.75 L727.68,509.57 L727.20,508.39 L726.73,507.22 L726.26,506.04 L725.79,504.86 L725.31,503.68 L724.84,502.51 L724.37,501.33 L723.91,500.15 L723.44,498.97 L722.97,497.80 L722.50,496.62 L722.04,495.44 L721.57,494.26 L721.11,493.09 L720.65,491.91 L720.19,490.73 L719.73,489.56 L719.27,488.38 L718.81,487.20 L718.35,486.02 L717.90,484.85 L717.44,483.67 L716.99,482.49 L716.54,481.31 L716.08,480.14 L715.63,478.96 L715.19,477.78 L714.74,476.60 L714.29,475.43 L713.85,474.25 L713.41,473.07 L712.96,471.89 L712.52,470.72 L712.08,469.54 L711.65,468.36 L711.21,467.19 L710.78,466.01 L710.34,464.83 L709.91,463.65 L709.48,462.48 L709.06,461.30 L708.63,460.12 L708.21,458.94 L707.78,457.77 L707.36,456.59 L706.94,455.41 L706.53,454.23 L706.11,453.06 L705.70,451.88 L705.29,450.70 L704.88,449.53 L704.47,448.35 L704.07,447.17 L703.66,445.99 L703.26,444.82 L702.86,443.64 L702.46,442.46 L702.07,441.28 L701.68,440.11 L701.28,438.93 L700.90,437.75 L700.51,436.57 L700.12,435.40 L699.74,434.22 L699.36,433.04 L698.99,431.86 L698.61,430.69 L698.24,429.51 L697.87,428.33 L697.50,427.16 L697.14,425.98 L696.77,424.80 L696.41,423.62 L696.06,422.45 L695.70,421.27 L695.35,420.09 L695.00,418.91 L694.65,417.74 L694.31,416.56 L693.97,415.38 L693.63,414.20 L693.29,413.03 L692.96,411.85 L692.63,410.67 L692.31,409.50 L691.98,408.32 L691.66,407.14 L691.34,405.96 L691.03,404.79 L690.72,403.61 L690.41,402.43 L690.10,401.25 L689.80,400.08 L689.50,398.90 L689.21,397.72 L688.92,396.54 L688.63,395.37 L688.34,394.19 L688.06,393.01 L687.78,391.83 L687.51,390.66 L687.23,389.48 L686.97,388.30 L686.70,387.13 L686.44,385.95 L686.19,384.77 L685.93,383.59 L685.68,382.42 L685.44,381.24 L685.20,380.06 L684.96,378.88 L684.73,377.71 L684.50,376.53 L684.27,375.35 L684.05,374.17 L683.84,373.00 L683.62,371.82 L683.41,370.64 L683.21,369.46 L683.01,368.29 L682.81,367.11 L682.62,365.93 L682.44,364.76 L682.26,363.58 L682.08,362.40 L681.90,361.22 L681.74,360.05 L681.57,358.87 L681.41,357.69 L681.26,356.51 L681.11,355.34 L680.96,354.16 L680.82,352.98 L680.68,351.80 L680.55,350.63 L680.43,349.45 L680.30,348.27 L680.19,347.10 L680.08,345.92 L679.97,344.74 L679.87,343.56 L679.78,342.39 L679.69,341.21 L679.60,340.03 L679.52,338.85 L679.45,337.68 L679.38,336.50 L679.32,335.32 L679.26,334.14 L679.21,332.97 L679.17,331.79 L679.13,330.61 L679.10,329.43 L679.07,328.26 L679.05,327.08 L679.04,325.90 L679.03,324.73 L679.03,323.55 L679.04,322.37 L679.05,321.19 L679.07,320.02 L679.10,318.84 L679.13,317.66 L679.17,316.48 L679.22,315.31 L679.27,314.13 L679.33,312.95 L679.40,311.77 L679.48,310.60 L679.56,309.42 L679.65,308.24 L679.75,307.07 L679.86,305.89 L679.97,304.71 L680.09,303.53 L680.22,302.36 L680.36,301.18 L680.51,300.00 L680.66,298.82 L680.82,297.65 L681.00,296.47 L681.18,295.29 L681.37,294.11 L681.56,292.94 L681.77,291.76 L681.99,290.58 L682.21,289.40 L682.45,288.23 L682.69,287.05 L682.95,285.87 L683.21,284.70 L683.48,283.52 L683.76,282.34 L684.06,281.16 L684.36,279.99 L684.67,278.81 L685.00,277.63 L685.33,276.45 L685.67,275.28 L686.03,274.10 L686.40,272.92 L686.77,271.74 L687.16,270.57 L687.56,269.39 L687.97,268.21 L688.39,267.03 L688.83,265.86 L689.27,264.68 L689.73,263.50 L690.20,262.33 L690.69,261.15 L691.18,259.97 L691.69,258.79 L692.21,257.62 L692.74,256.44 L693.29,255.26 L693.85,254.08 L694.42,252.91 L695.01,251.73 L695.61,250.55 L696.22,249.37 L696.85,248.20 L697.49,247.02 L698.15,245.84 L698.82,244.67 L699.51,243.49 L700.21,242.31 L700.93,241.13 L701.66,239.96 L702.40,238.78 L703.17,237.60 L703.95,236.42 L704.74,235.25 L705.55,234.07 L706.38,232.89 L707.23,231.71 L708.09,230.54 L708.97,229.36 L709.86,228.18 L710.78,227.00 L711.71,225.83 L712.66,224.65 L713.63,223.47 L714.62,222.30 L715.62,221.12 L716.65,219.94 L717.69,218.76 L718.76,217.59 L719.84,216.41 L720.94,215.23 L722.07,214.05 L723.21,212.88 L724.38,211.70 L725.56,210.52 L726.77,209.34 L728.00,208.17 L729.25,206.99 L730.53,205.81 L731.82,204.64 L733.14,203.46 L734.48,202.28 L735.85,201.10 L737.24,199.93 L738.65,198.75 L740.09,197.57 L741.55,196.39 L743.04,195.22 L744.55,194.04 L746.09,192.86 L747.65,191.68 L749.24,190.51 L750.86,189.33 L752.50,188.15 L754.17,186.97 L755.87,185.80 L757.60,184.62 L759.36,183.44 L761.14,182.27 L762.95,181.09 L764.80,179.91 L766.67,178.73 L768.57,177.56 L770.51,176.38 L772.48,175.20 L774.47,174.02 L776.50,172.85 L778.57,171.67 L780.66,170.49 L782.79,169.31 L784.95,168.14 L787.15,166.96 L789.38,165.78 L791.65,164.60 L793.95,163.43 L796.29,162.25 L798.67,161.07 L801.08,159.90 L803.53,158.72 L806.02,157.54 L808.55,156.36 L811.12,155.19 L813.73,154.01 L816.37,152.83 L819.06,151.65 L821.79,150.48 L824.57,149.30 L827.38,148.12 L830.24,146.94 L833.15,145.77 L836.09,144.59 L839.09,143.41 L842.13,142.24 L845.21,141.06 L848.34,139.88 L851.52,138.70 L854.75,137.53 L855.20,137.36" stroke="#f5001e" stroke-width="5.2"/>
</g>
<g font-family="'Liberation Sans', sans-serif" font-size="25.5px" fill="#000" stroke="#000" stroke-width="0.15">
<text x="74.4" y="830.9" text-anchor="end">0</text>
<text x="74.4" y="718.1" text-anchor="end">10</text>
<text x="74.4" y="603.6" text-anchor="end">20</text>
<text x="74.4" y="490.8" text-anchor="end">30</text>
<text x="74.4" y="376.6" text-anchor="end">40</text>
<text x="74.4" y="263.1" text-anchor="end">50</text>
<text x="74.4" y="149.6" text-anchor="end">60</text>
<text x="74.4" y="36.1" text-anchor="end">70</text>
<text x="81.4" y="851.5" text-anchor="middle">0</text>
<text x="328.6" y="851.5" text-anchor="middle">5</text>
<text x="576.2" y="851.5" text-anchor="middle">10</text>
<text x="823.7" y="851.5" text-anchor="middle">15</text>
<text x="469" y="881.8" text-anchor="middle" font-size="25.2px">Proper Distance (GLyrs)</text>
<text transform="translate(29.8,415.3) rotate(-90)" text-anchor="middle" font-size="25.2px">Time (GYrs)</text>
</g></svg>
</body></html>
